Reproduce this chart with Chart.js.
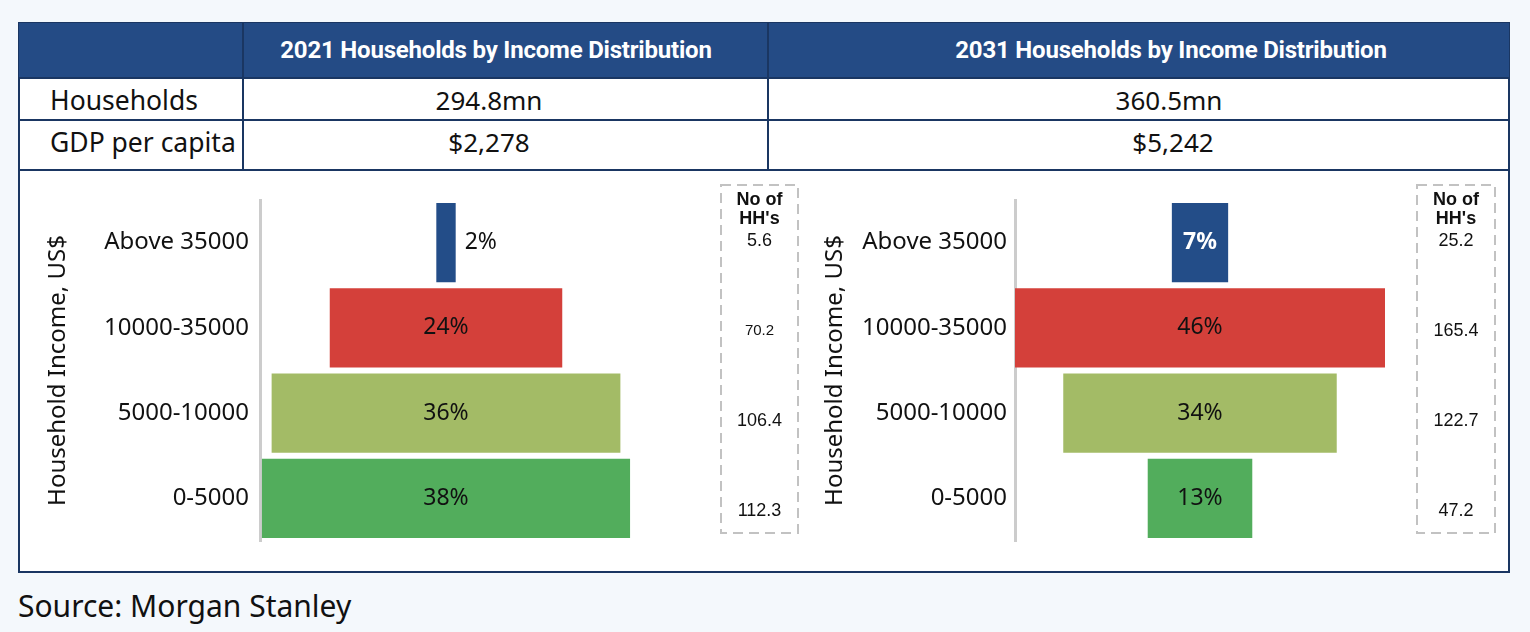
<!DOCTYPE html>
<html>
<head>
<meta charset="utf-8">
<script src="https://cdn.jsdelivr.net/npm/chart.js@4.4.0/dist/chart.umd.min.js"></script>
<style>
  html, body { margin: 0; padding: 0; }
  body { width: 1530px; height: 632px; background: #f4f8fc; position: relative; overflow: hidden;
         font-family: "Noto Sans", sans-serif; color: #111; }
  .abs { position: absolute; }
  #frame { left: 18px; top: 22px; width: 1492px; height: 551px; box-sizing: border-box;
           border: 2px solid #1a3662; background: #fff; }
  #head { left: 19px; top: 23px; width: 1490px; height: 55px; background: #244b85; }
  .hline { height: 2px; background: #1a3662; }
  .vline { width: 2px; background: #1a3662; }
  .txt { transform: translate(-50%, -50%); white-space: nowrap; }
  .htxt { font-family: Roboto, sans-serif; font-weight: 700; font-size: 24px; color: #fff; letter-spacing: -0.2px; }
  .rtxt { font-size: 26px; }
  .ltxt { font-size: 26.5px; transform: translate(0, -50%); white-space: nowrap; }
  #src { left: 18px; top: 605px; font-size: 30px; transform: translate(0, -50%); white-space: nowrap; }
  .box { position: absolute; }
</style>
</head>
<body>
<div id="frame" class="abs"></div>
<div id="head" class="abs"></div>
<div class="abs hline" style="left:18px;top:77px;width:1492px"></div>
<div class="abs hline" style="left:18px;top:119px;width:1492px"></div>
<div class="abs hline" style="left:18px;top:169px;width:1492px"></div>
<div class="abs vline" style="left:242px;top:22px;height:148px"></div>
<div class="abs vline" style="left:767px;top:22px;height:148px"></div>

<div class="abs txt htxt" style="left:496px;top:50px">2021 Households by Income Distribution</div>
<div class="abs txt htxt" style="left:1171px;top:50px">2031 Households by Income Distribution</div>

<div class="abs ltxt" style="left:50px;top:100px">Households</div>
<div class="abs ltxt" style="left:50px;top:142px">GDP per capita</div>
<div class="abs txt rtxt" style="left:489px;top:100px">294.8mn</div>
<div class="abs txt rtxt" style="left:489px;top:142px">$2,278</div>
<div class="abs txt rtxt" style="left:1169px;top:100px">360.5mn</div>
<div class="abs txt rtxt" style="left:1173px;top:142px">$5,242</div>

<div class="box" style="left:20px;top:172px;width:780px;height:399px"><canvas id="chart2021"></canvas></div>
<div class="box" style="left:800px;top:172px;width:708px;height:399px"><canvas id="chart2031"></canvas></div>

<div id="src" class="abs">Source: Morgan Stanley</div>

<script>
// income bands, top to bottom
const bands = ["Above 35000", "10000-35000", "5000-10000", "0-5000"];
const barColors = ["#234d88", "#d4403a", "#a3bb66", "#52ad5c"];

// share of households, %
const share2021 = [2, 24, 36, 38];
const share2031 = [7, 46, 34, 13];

// number of households, mn
const hh2021 = ["5.6", "70.2", "106.4", "112.3"];
const hh2031 = ["25.2", "165.4", "122.7", "47.2"];

// percentage labels on (or next to) each bar
const barLabels = {
  id: "barLabels",
  afterDatasetsDraw(chart) {
    const ctx = chart.ctx;
    const shares = chart.options.plugins.barLabels.shares;
    chart.getDatasetMeta(0).data.forEach((bar, i) => {
      const txt = shares[i] + "%";
      const w = Math.abs(bar.x - bar.base);
      ctx.save();
      ctx.textBaseline = "middle";
      if (w < 40) {
        ctx.font = "23px 'Noto Sans'";
        ctx.fillStyle = "#111";
        ctx.textAlign = "left";
        ctx.fillText(txt, Math.max(bar.x, bar.base) + 9, bar.y);
      } else {
        const dark = i === 0;
        ctx.font = (dark ? "bold " : "") + "23px 'Noto Sans'";
        ctx.fillStyle = dark ? "#fff" : "#111";
        ctx.textAlign = "center";
        ctx.fillText(txt, (bar.x + bar.base) / 2, bar.y);
      }
      ctx.restore();
    });
  }
};

// dashed "No of HH's" column to the right of the funnel
const hhBox = {
  id: "hhBox",
  afterDraw(chart) {
    const o = chart.options.plugins.hhBox;
    const ctx = chart.ctx;
    const area = chart.chartArea;
    const yScale = chart.scales.y;
    const x0 = area.right + o.offset;
    const top = area.top - 15;
    const bottom = area.bottom - 8;
    const cx = x0 + o.width / 2;
    ctx.save();
    ctx.strokeStyle = "#c2c2c2";
    ctx.lineWidth = 2;
    ctx.setLineDash([10, 6]);
    ctx.strokeRect(x0, top, o.width, bottom - top);
    ctx.setLineDash([]);
    ctx.fillStyle = "#111";
    ctx.textAlign = "center";
    ctx.textBaseline = "middle";
    ctx.font = "bold 18px 'Liberation Sans'";
    ctx.fillText("No of", cx, top + 15);
    ctx.fillText("HH's", cx, top + 34);
    o.values.forEach((v, i) => {
      ctx.font = (o.small === i ? "15px" : "18px") + " 'Liberation Sans'";
      ctx.fillText(v, cx, yScale.getPixelForValue(i) + i * 5 - 2);
    });
    ctx.restore();
  }
};

function makeFunnel(id, shares, hh, cfg) {
  return new Chart(document.getElementById(id), {
    type: "bar",
    data: {
      labels: bands,
      datasets: [{
        data: shares.map((v) => [-v / 2, v / 2]),
        backgroundColor: barColors,
        borderWidth: 0,
        barPercentage: 0.93,
        categoryPercentage: 1
      }]
    },
    options: {
      indexAxis: "y",
      responsive: true,
      maintainAspectRatio: false,
      animation: false,
      layout: { padding: { top: 28, bottom: 30, left: 0, right: cfg.padRight } },
      scales: {
        x: { display: false, min: -cfg.half, max: cfg.half },
        y: {
          afterFit: (s) => { s.width = cfg.axisWidth; },
          grid: { display: false, drawTicks: false },
          border: { display: true, color: "#cccccc", width: 3 },
          ticks: { color: "#111", padding: cfg.tickPad, font: { family: "Noto Sans", size: 24 } },
          title: {
            display: true,
            text: "Household Income, US$",
            color: "#111",
            font: { family: "Noto Sans", size: 24 },
            padding: { top: cfg.titlePad, bottom: 0 }
          }
        }
      },
      plugins: {
        legend: { display: false },
        tooltip: { enabled: false },
        barLabels: { shares: shares },
        hhBox: { values: hh, offset: cfg.boxOffset, width: cfg.boxWidth, small: cfg.small }
      }
    },
    plugins: [barLabels, hhBox]
  });
}

makeFunnel("chart2021", share2021, hh2021,
  { half: 19.2, padRight: 168, axisWidth: 240, tickPad: 11, titlePad: 24, boxOffset: 89, boxWidth: 77, small: 1 });
makeFunnel("chart2031", share2031, hh2031,
  { half: 23, padRight: 123, axisWidth: 215, tickPad: 8, titlePad: 21, boxOffset: 32, boxWidth: 78, small: -1 });
</script>
</body>
</html>
